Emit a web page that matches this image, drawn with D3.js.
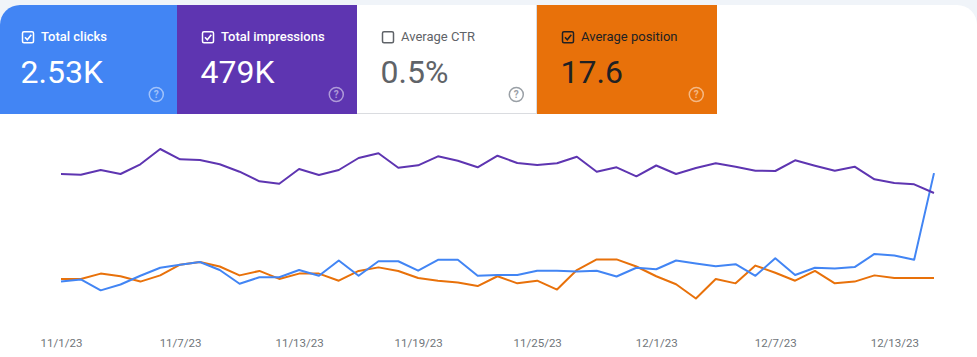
<!DOCTYPE html>
<html><head><meta charset="utf-8">
<script src="https://cdn.jsdelivr.net/npm/d3@7/dist/d3.min.js"></script>
<style>
html,body{margin:0;padding:0;background:#f0f4f9;}
svg{display:block;font-family:Roboto,"Noto Sans",Arial,sans-serif;}
</style></head>
<body>
<svg id="chart" width="977" height="357"></svg>
<script>
// ---- data ----
const startDate = "2023-11-01";
const tickLabels = ["11/1/23","11/7/23","11/13/23","11/19/23","11/25/23","12/1/23","12/7/23","12/13/23"];
const clicks = [39,42,27,35,47,58,62,66,55,36,45,45,55,47,68,47,67,67,54,69,69,47,48,48,54,54,53,54,46,58,56,68,64,60,63,47,71,48,58,57,59,77,75,69,188];
const impressions = [10163,10110,10462,10163,10887,12031,11261,11209,10887,10335,9617,9438,10536,10088,10462,11358,11709,10633,10813,11485,11156,10663,11530,10985,10835,10962,11455,10335,10663,9991,10798,10163,10611,10962,10708,10409,10387,11186,10783,10409,10708,9767,9490,9393,8743];
const position = [18.0,18.0,17.4,17.7,18.3,17.6,16.4,16.1,16.6,17.6,17.1,18.0,17.4,17.4,18.2,17.1,16.7,17.1,17.9,18.2,18.4,18.8,17.7,18.5,18.2,19.2,17.0,15.8,15.8,16.6,17.7,18.6,20.2,18.0,18.5,16.5,17.3,18.2,17.1,18.5,18.3,17.6,17.9,17.9,17.9];
const cardLabels = ["Total clicks","Total impressions","Average CTR","Average position"];
const cardValues = ["2.53K","479K","0.5%","17.6"];
const cardChecked = [true,true,false,true];

// ---- build ----
const W = 977, H = 357;
const svg = d3.select("#chart");
const parse = d3.timeParse("%Y-%m-%d");
const d0 = parse(startDate);
const dates = clicks.map((_, i) => d3.timeDay.offset(d0, i));

const defs = svg.append("defs");
defs.append("clipPath").attr("id","card")
  .append("rect").attr("x",0).attr("y",5).attr("width",W).attr("height",H+30).attr("rx",20).attr("ry",20);

const card = svg.append("g").attr("clip-path","url(#card)");
card.append("rect").attr("x",0).attr("y",0).attr("width",W).attr("height",H).attr("fill","#ffffff");

const tiles = [
  {bg:"#4285f4", fg:"#ffffff", valFg:"#ffffff", box:"#ffffff", help:"rgba(255,255,255,0.5)", w:500},
  {bg:"#5e35b1", fg:"#ffffff", valFg:"#ffffff", box:"#ffffff", help:"rgba(255,255,255,0.5)", w:500},
  {bg:"#ffffff", fg:"#5f6368", valFg:"#5f6368", box:"#5f6368", help:"#9aa0a6", w:400},
  {bg:"#e8710a", fg:"#202124", valFg:"#202124", box:"#202124", help:"rgba(255,255,255,0.5)", w:400}
];
const tileStarts = [-3, 177, 357, 537];
const tg = card.selectAll("g.tile").data(tiles).join("g").attr("class","tile")
  .attr("transform",(d,i)=>`translate(${tileStarts[i]},5)`);
tg.append("rect").attr("width",180).attr("height",109).attr("fill",d=>d.bg);
// CTR tile borders
tg.filter((d,i)=>i===2).append("rect").attr("x",0).attr("y",108).attr("width",180).attr("height",1).attr("fill","#dadce0");
tg.filter((d,i)=>i===2).append("rect").attr("x",179).attr("y",0).attr("width",1).attr("height",109).attr("fill","#dadce0");

// checkbox
tg.append("rect").attr("x",25.5).attr("y",26.75).attr("width",11).attr("height",11).attr("rx",1.5)
  .attr("fill","none").attr("stroke",d=>d.box).attr("stroke-width",1.5);
tg.filter((d,i)=>cardChecked[i]).append("path")
  .attr("d","M28 32.3 L30.3 34.8 L34.3 29.8")
  .attr("fill","none").attr("stroke",d=>d.box).attr("stroke-width",1.6);
tg.append("text").attr("x",44).attr("y",36).attr("font-size",13).attr("font-weight",d=>d.w)
  .attr("fill",d=>d.fg).text((d,i)=>cardLabels[i]);
tg.append("text").attr("x",23.5).attr("y",78).attr("font-size",32).attr("font-weight",400)
  .attr("fill",d=>d.valFg).text((d,i)=>cardValues[i]);
// help icon
const hi = tg.append("g").attr("transform",`translate(159.3,89.5)`);
hi.append("circle").attr("r",7).attr("fill","none").attr("stroke",d=>d.help).attr("stroke-width",1.5);
hi.append("text").attr("y",3.8).attr("text-anchor","middle").attr("font-size",10).attr("font-weight",700)
  .attr("fill",d=>d.help).text("?");

// ---- lines ----
const x = d3.scaleTime().domain([dates[0], dates[dates.length-1]]).range([61, 934]);
const yClicks = d3.scaleLinear().domain([0, 250]).range([310, 128]);
const yImpr = d3.scaleLinear().domain([0, 13600]).range([310, 128]);
const yPos = d3.scaleLinear().domain([1, 21.5]).range([128, 310]);

const series = [
  {vals: position, y: yPos, color:"#e8710a"},
  {vals: clicks, y: yClicks, color:"#4285f4"},
  {vals: impressions, y: yImpr, color:"#5e35b1"}
];
series.forEach(s => {
  const line = d3.line().x((d,i)=>x(dates[i])).y(d=>s.y(d));
  card.append("path").datum(s.vals).attr("d", line)
    .attr("fill","none").attr("stroke", s.color).attr("stroke-width",2).attr("stroke-linejoin","round");
});

// ---- axis ----
const tickDates = tickLabels.map((_, i) => d3.timeDay.offset(d0, i*6));
const ax = card.append("g").attr("transform","translate(0,347)")
  .call(d3.axisBottom(x).tickValues(tickDates).tickSize(0).tickPadding(0)
    .tickFormat((d,i)=>tickLabels[i]));
ax.select(".domain").remove();
ax.selectAll("text").attr("font-size",11.5).attr("fill","#70757a")
  .attr("font-family","Roboto, sans-serif").attr("dy",0).attr("y",0);
</script>
</body></html>
